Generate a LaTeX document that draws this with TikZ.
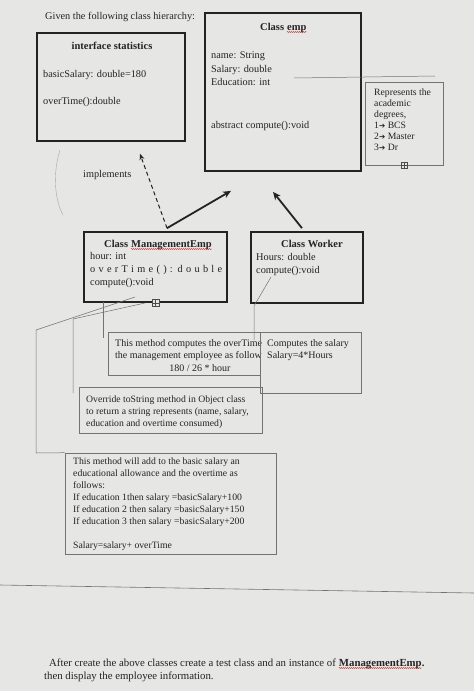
\documentclass[tikz,border=0pt]{standalone}
\usepackage{fontspec}
\setmainfont{Liberation Serif}
\newfontfamily\dejavu{DejaVu Sans}
\usetikzlibrary{arrows.meta,decorations.pathmorphing}
\definecolor{bg}{RGB}{230,230,228}
\definecolor{ink}{RGB}{35,35,38}
\newcommand\degarr{{\dejavu\fontsize{7.5}{9}\selectfont ➔}}
\tikzset{
  classbox/.style={draw=ink, line width=1.7pt, inner sep=0pt},
  notebox/.style={draw=black!55, line width=0.6pt, inner sep=0pt},
  t/.style={inner sep=0pt, anchor=base west, text=ink, font=\fontsize{10.3}{12}\selectfont},
  tb/.style={t, font=\fontsize{10.5}{12}\selectfont\bfseries},
  tn/.style={t, font=\fontsize{9.7}{11}\selectfont},
  tbot/.style={t, font=\fontsize{10.8}{13}\selectfont},
  callout/.style={draw=black!55, line width=0.5pt},
  squig/.style={draw=red!75!black, line width=0.4pt, decorate, decoration={snake, amplitude=0.45pt, segment length=2pt}},
  plusbox/.style={draw=black!70, line width=0.5pt, fill=bg, minimum size=6.5pt, inner sep=0pt,
    path picture={\draw[black!70, line width=0.4pt] (path picture bounding box.west) -- (path picture bounding box.east)
      (path picture bounding box.north) -- (path picture bounding box.south);}},
  inh/.style={draw=ink, line width=1.8pt, -{Stealth[length=8pt,width=7pt]}},
  impl/.style={draw=ink, line width=1pt, dash pattern=on 4pt off 3pt, -{Stealth[length=6pt,width=5pt]}}
}
\begin{document}
\begin{tikzpicture}[x=1pt,y=-1pt]
\useasboundingbox (0,0) rectangle (474,691);
\fill[bg] (0,0) rectangle (474,691);

% title
\node[t] (title) at (45,19) {Given the following class hierarchy:};

% interface statistics
\node[classbox, minimum width=148pt, minimum height=108pt] (iface) at (111,87) {};
\node[tb, anchor=base] (ifh) at (112,49) {interface statistics};
\node[t] (if1) at (43,77) {basicSalary: double=180};
\node[t] (if2) at (43,104) {overTime():double};

% class emp
\node[classbox, minimum width=156pt, minimum height=158pt] (emp) at (283,92) {};
\node[tb] (emph) at (260,30) {Class};
\node[tb] (empn) at ([xshift=2.7pt]emph.base east) {emp};
\draw[squig] ([yshift=-2pt]empn.base west) -- ([yshift=-2pt]empn.base east);
\node[t] (emp1) at (211,58) {name: String};
\node[t] (emp2) at (211,72) {Salary: double};
\node[t] (emp3) at (211,85) {Education: int};
\node[t] (emp4) at (211,128) {abstract compute():void};

% degrees note
\node[notebox, minimum width=78pt, minimum height=83pt] (deg) at (404,123.5) {};
\foreach \txt [count=\i] in {{Represents the},{academic},{degrees,},{1\degarr\ BCS},{2\degarr\ Master},{3\degarr\ Dr}}
  \node[tn] (deg\i) at (374,84+11*\i) {\txt};
\node[plusbox] (degplus) at (deg.south) {};
\coordinate (e1) at (294,78);
\coordinate (e2) at (435,76);
\draw[callout] (e1) -- (e2);

% implements label and arc
\node[t] (implab) at (83,177) {implements};
\draw[black!35, line width=0.4pt] (60,150) .. controls (53,172) and (54,198) .. (63,215);

% ManagementEmp
\node[classbox, minimum width=143pt, minimum height=70pt] (mgr) at (155.5,267) {};
\node[tb] (mgrh) at (104,247) {Class};
\node[tb] (mgrn) at ([xshift=2.7pt]mgrh.base east) {ManagementEmp};
\draw[squig] ([yshift=-2pt]mgrn.base west) -- ([yshift=-2pt]mgrn.base east);
\node[t] (mgr1) at (90,259) {hour: int};
\node[t] (mgr2) at (90,272) {\makebox[132pt][s]{o v e r T i m e ( ) : d o u b l e}};
\node[t] (mgr3) at (90,285) {compute():void};

% Worker
\node[classbox, minimum width=112pt, minimum height=71pt] (wrk) at (307,267.5) {};
\node[tb, anchor=base] (wrkh) at (312,247) {Class Worker};
\node[t] (wrk1) at (256,260) {Hours: double};
\node[t] (wrk2) at (256,273) {compute():void};

% inheritance / implementation arrows
\draw[impl] ([xshift=11.5pt,yshift=3pt]mgr.north) -- ([xshift=29pt,yshift=-12pt]iface.south);
\draw[inh] ([xshift=11.5pt,yshift=3pt]mgr.north) -- ([xshift=-52pt,yshift=-19pt]emp.south);
\draw[inh] ([xshift=-5pt,yshift=3pt]wrk.north) -- ([xshift=-10pt,yshift=-20pt]emp.south);

% notes
\node[notebox, minimum width=152pt, minimum height=43pt] (otn) at (184,353.5) {};
\node[tn, font=\fontsize{10}{12}\selectfont] (ot1) at (115,346) {This method computes the overTime};
\node[tn, font=\fontsize{10}{12}\selectfont] (ot2) at (115,358) {the management employee as follow};
\node[tn, font=\fontsize{10}{12}\selectfont, anchor=base] (ot3) at (200,371) {180 / 26 * hour};

\node[notebox, minimum width=101pt, minimum height=61pt] (wkn) at (310.5,362.5) {};
\node[tn, font=\fontsize{10}{12}\selectfont] (wk1) at (267,346) {Computes the salary};
\node[tn, font=\fontsize{10}{12}\selectfont] (wk2) at (267,358) {Salary=4*Hours};

\node[notebox, minimum width=183pt, minimum height=46pt] (ovr) at (170.5,410) {};
\node[tn] (ov1) at (86,402) {Override toString method in Object class};
\node[tn] (ov2) at (86,414) {to return a string represents (name, salary,};
\node[tn] (ov3) at (86,426) {education and overtime consumed)};

\node[notebox, minimum width=211pt, minimum height=101pt] (third) at (170.5,503.5) {};
\foreach \txt [count=\i] in {{This method will add to the basic salary an},{educational allowance and the overtime as},{follows:},{If education 1then salary =basicSalary+100},{If education 2 then salary =basicSalary+150},{If education 3 then salary =basicSalary+200}}
  \node[tn] (th\i) at (73,452+12*\i) {\txt};
\node[tn] (th7) at (73,548) {Salary=salary+ overTime};

% callout lines
\coordinate (c1a) at (135,297);
\coordinate (c1b) at (36,330);
\coordinate (c1c) at (36,453);
\draw[callout] (c1a) -- (c1b) -- (c1c) -- (third.north west);
\coordinate (c2a) at (145,303);
\coordinate (c2b) at (73,319);
\coordinate (c2c) at (73,393);
\draw[callout] (c2a) -- (c2b) -- (c2c);
\coordinate (c3a) at (103,302);
\coordinate (c3b) at (103,338);
\draw[callout] (c3a) -- (c3b);
\coordinate (c4a) at (271,277);
\coordinate (c4b) at (254,306);
\coordinate (c4c) at (254,340);
\draw[callout] (c4a) -- (c4b) -- (c4c);

\node[plusbox] (mgrplus) at (mgr.south) {};

% divider
\coordinate (d1) at (0,585);
\coordinate (d2) at (474,593);
\draw[black!55, line width=0.6pt] (d1) -- (d2);

% bottom text
\node[tbot] (bt1) at (49,666) {After create the above classes create a test class and an instance of};
\node[tbot, font=\fontsize{10.8}{13}\selectfont\bfseries] (bt1b) at ([xshift=2.7pt]bt1.base east) {ManagementEmp.};
\draw[squig] ([yshift=-2pt]bt1b.base west) -- ([yshift=-2pt,xshift=-3pt]bt1b.base east);
\node[tbot] (bt2) at (44,679) {then display the employee information.};
\end{tikzpicture}
\end{document}
